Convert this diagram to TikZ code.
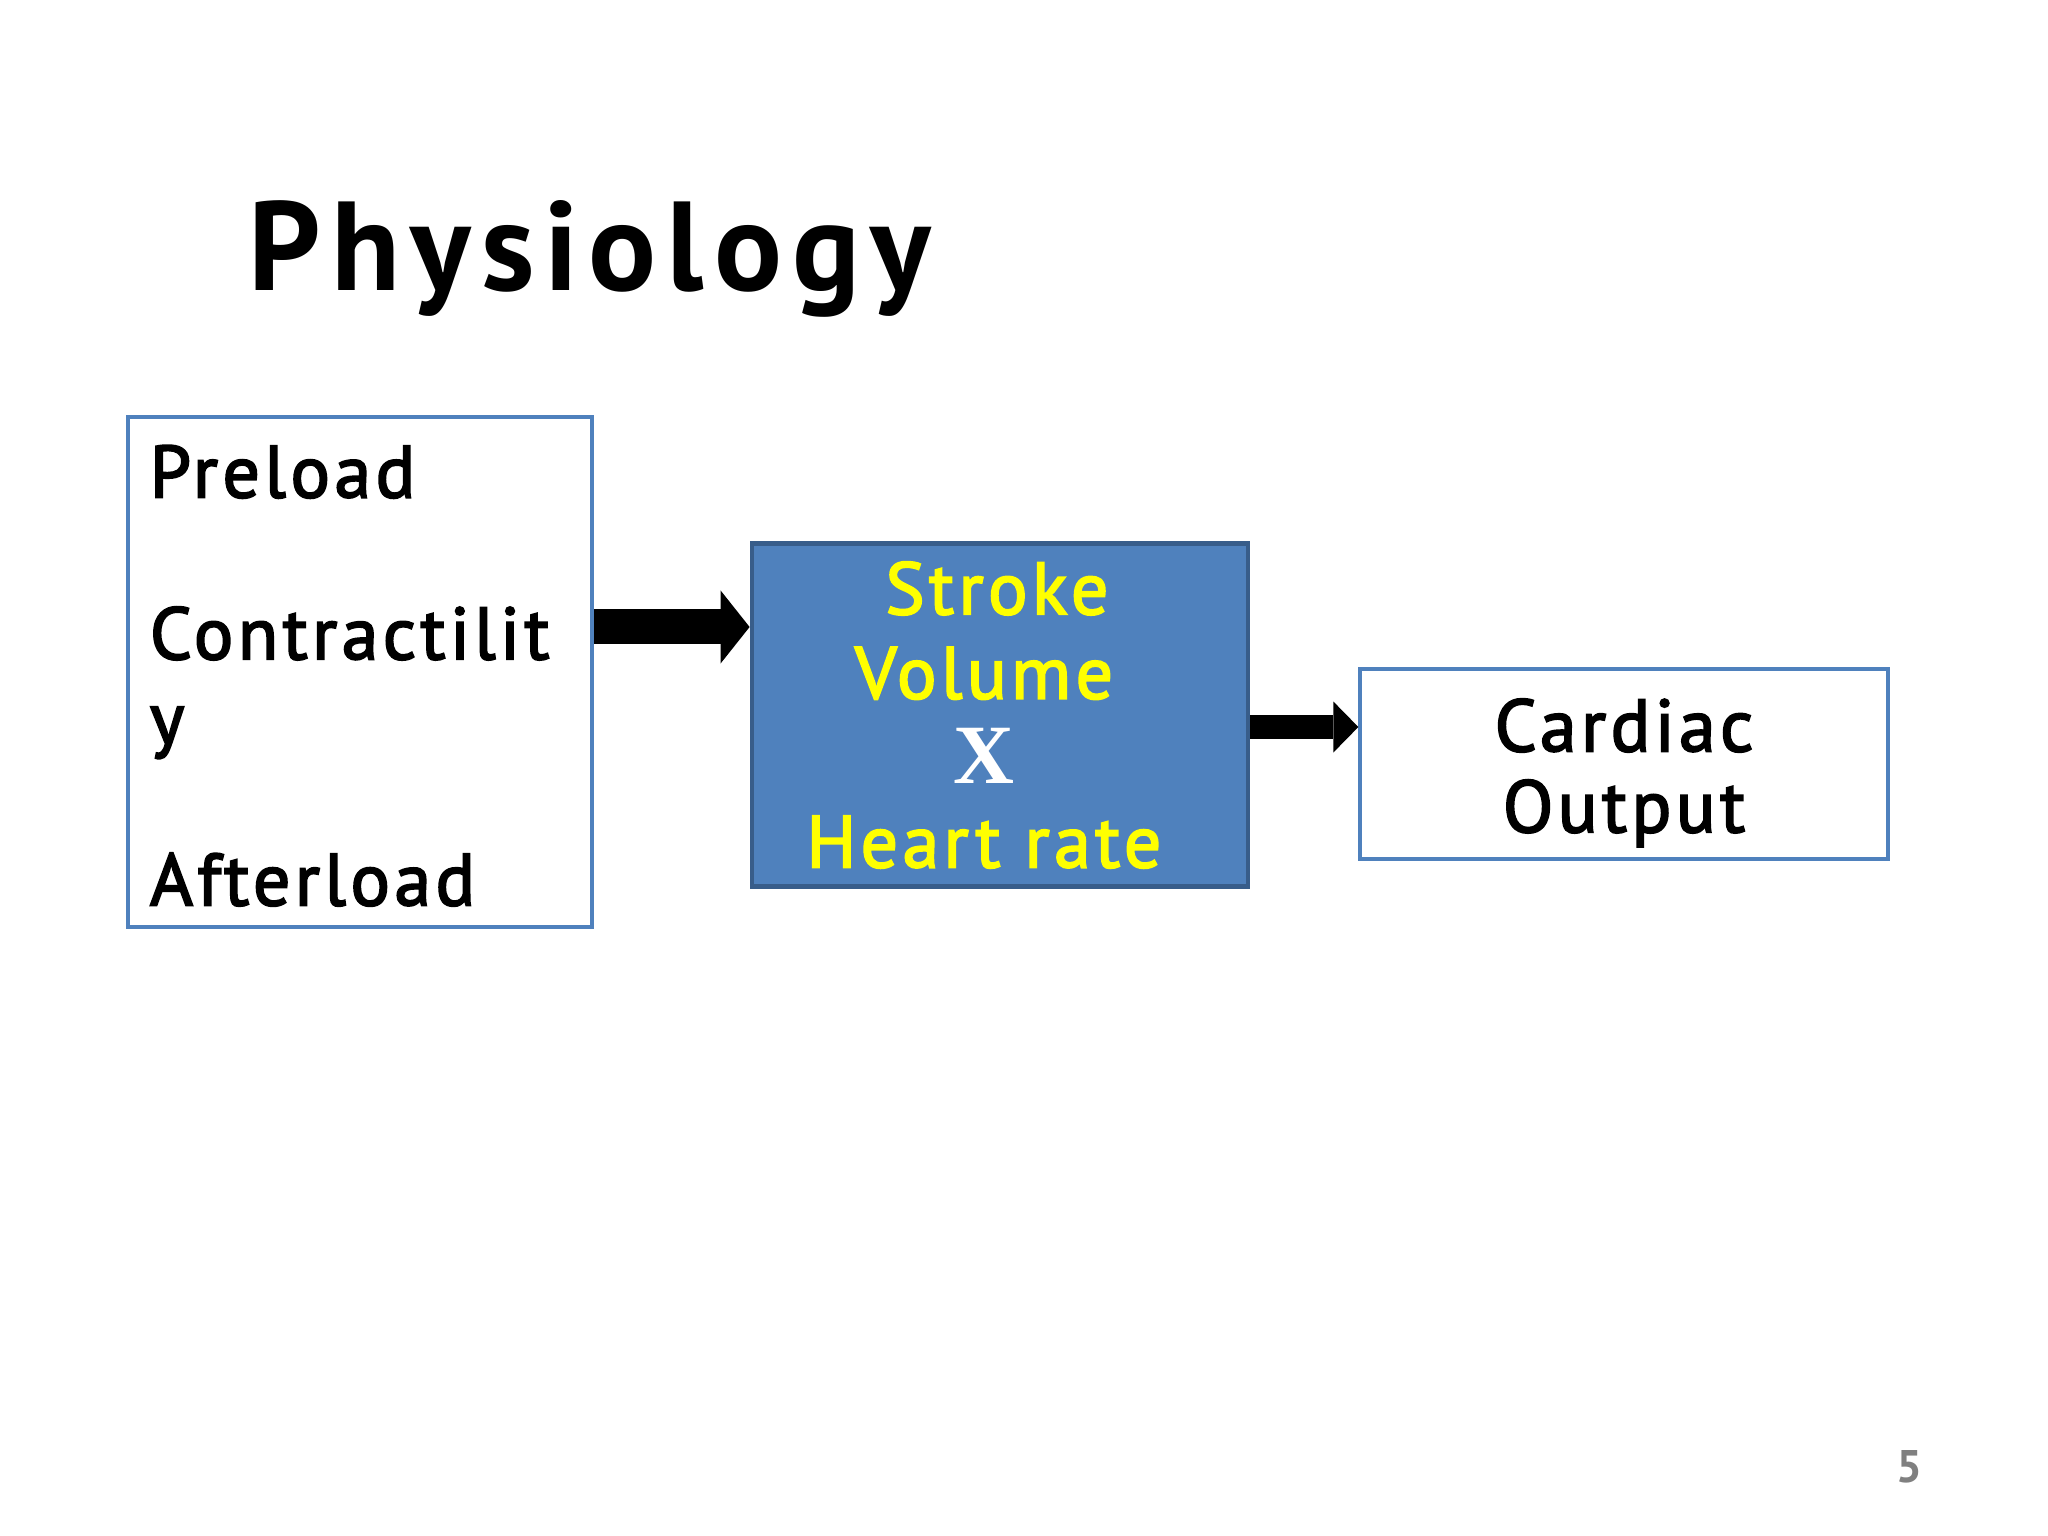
\documentclass[tikz,border=0pt]{standalone}
\usepackage{fontspec}
\setmainfont{PT Sans}[LetterSpace=6]
\newfontfamily\bodyfont{PT Sans}[LetterSpace=6, FakeBold=2.5]
\newfontfamily\titlefont{PT Sans}[LetterSpace=8]
\newfontfamily\timesfont{Liberation Serif}
\usepackage{tikz}
\usetikzlibrary{arrows.meta, positioning, calc}
\usepackage{xcolor}
\definecolor{boxblue}{RGB}{79,129,189}
\definecolor{boxedge}{RGB}{56,93,138}
\definecolor{svyellow}{RGB}{255,255,0}
\definecolor{pagegray}{RGB}{128,128,128}

\tikzset{
  sidebox/.style={draw=boxblue, line width=0.04cm, fill=white, rectangle},
  midbox/.style={draw=boxedge, line width=0.045cm, fill=boxblue, rectangle},
  fatarrow/.style n args={3}{line width=#1, -{Triangle[length=#2, width=#3, line width=0pt]}},
  bodytext/.style={font=\bodyfont\fontsize{21}{24}\selectfont}
}

\begin{document}
\begin{tikzpicture}[x=0.01cm, y=-0.01cm]
  \useasboundingbox (0,0) rectangle (2048,1536);
  % title
  \node[anchor=base west, inner sep=0pt, font=\titlefont\fontsize{36}{40}\selectfont\bfseries] (title) at (248,290) {Physiology};
  % the three boxes
  \node[sidebox, bodytext, align=left, text width=4.2cm, inner xsep=0.22cm,
        minimum height=5.1cm] (factors) at (360,672)
        {\rule{0pt}{17pt}Preload\\[22pt]Contractilit\\y\\[22pt]Afterload};
  \node[midbox, bodytext, align=center, minimum width=4.96cm, minimum height=3.43cm,
        text=svyellow] (sv) at (1000,715)
        {Stroke\rule{0.06cm}{0pt}\\Volume\rule{0.32cm}{0pt}\\{\timesfont\bfseries\fontsize{24}{24}\selectfont\color{white}X}\rule{0.32cm}{0pt}\\Heart rate\rule{0.32cm}{0pt}};
  \node[sidebox, font=\bodyfont\fontsize{21}{23}\selectfont, align=center,
        minimum width=5.27cm, minimum height=1.84cm] (co) at (1624,764)
        {\rule{0pt}{20pt}Cardiac\\Output};
  % block arrows
  \draw[fatarrow={0.35cm}{0.29cm}{0.73cm}] ([yshift=0.45cm]factors.east) -- ([yshift=0.45cm]factors.east -| sv.west);
  \draw[fatarrow={0.24cm}{0.25cm}{0.51cm}] ([yshift=-0.12cm]sv.east) -- ([yshift=-0.12cm]sv.east -| co.west);
  % slide number
  \node[text=pagegray, font=\fontsize{13}{15}\selectfont\bfseries] (pagenum) at (1909,1467) {5};
\end{tikzpicture}
\end{document}
